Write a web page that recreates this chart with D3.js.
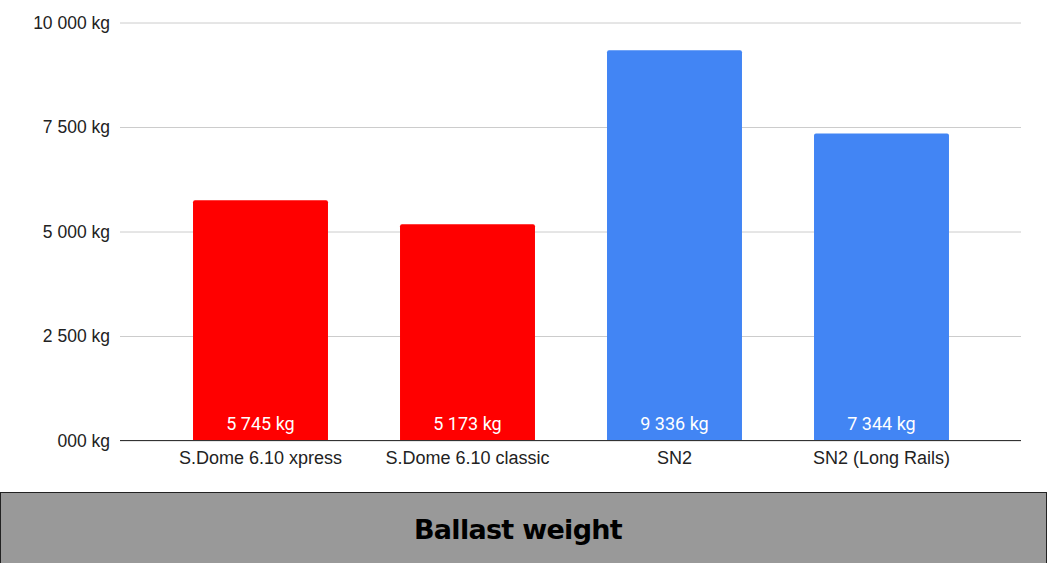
<!DOCTYPE html>
<html>
<head>
<meta charset="utf-8">
<script src="https://cdn.jsdelivr.net/npm/d3@7"></script>
<style>
  body { margin: 0; background: #fff; }
  svg { display: block; }
</style>
</head>
<body>
<div id="chart"></div>
<script>
// chart values
const categories = ["S.Dome 6.10 xpress", "S.Dome 6.10 classic", "SN2", "SN2 (Long Rails)"];
const weights = [5745, 5173, 9336, 7344];
const barColors = ["#ff0000", "#ff0000", "#4285f4", "#4285f4"];
const yTicks = [0, 2500, 5000, 7500, 10000];
const yTickLabels = ["000 kg", "2 500 kg", "5 000 kg", "7 500 kg", "10 000 kg"];
const title = "Ballast weight";

const width = 1047;
const height = 563;

const svg = d3.select('#chart').append('svg')
    .attr('width', width)
    .attr('height', height);

const x = d3.scaleBand()
    .domain(categories)
    .range([157, 985])
    .paddingInner(0.348)
    .paddingOuter(0.174);

const y = d3.scaleLinear()
    .domain([0, 10000])
    .range([440.5, 22.5]);

// gridlines + y labels
const yAxis = d3.axisLeft(y)
    .tickValues(yTicks)
    .tickSize(-(1021 - 120))
    .tickPadding(10)
    .tickFormat((d, i) => yTickLabels[i]);

const gy = svg.append('g')
    .attr('transform', 'translate(120,0)')
    .call(yAxis);
gy.select('.domain').remove();
gy.selectAll('.tick line').attr('stroke', '#cccccc');
gy.selectAll('.tick text')
    .attr('fill', '#222')
    .style('font', '17.5px "Liberation Sans", Arial, sans-serif');

// bars
const rows = categories.map((c, i) => ({ name: c, value: weights[i], color: barColors[i] }));

svg.append('g').selectAll('path')
    .data(rows)
    .enter()
    .append('path')
    .attr('fill', d => d.color)
    .attr('d', d => {
        const x0 = x(d.name), w = x.bandwidth(), y0 = y(d.value), y1 = y(0), r = 2;
        return `M${x0},${y1}V${y0 + r}Q${x0},${y0} ${x0 + r},${y0}H${x0 + w - r}Q${x0 + w},${y0} ${x0 + w},${y0 + r}V${y1}Z`;
    });

// value labels inside bars
svg.append('g').selectAll('text')
    .data(rows)
    .enter()
    .append('text')
    .attr('x', d => x(d.name) + x.bandwidth() / 2)
    .attr('y', y(0) - 11)
    .attr('text-anchor', 'middle')
    .attr('fill', '#fff')
    .style('font', '18px Roboto, sans-serif')
    .text(d => d3.format(',')(d.value).replace(/,/g, ' ') + ' kg');

// baseline
svg.append('line')
    .attr('x1', 120).attr('x2', 1021)
    .attr('y1', y(0)).attr('y2', y(0))
    .attr('stroke', '#333')
    .attr('stroke-width', 1);

// category labels
const xAxis = d3.axisBottom(x).tickSize(0).tickPadding(11);
const gx = svg.append('g')
    .attr('transform', `translate(0,${y(0)})`)
    .call(xAxis);
gx.select('.domain').remove();
gx.selectAll('.tick text')
    .attr('fill', '#222')
    .style('font', '18px "Liberation Sans", Arial, sans-serif');

// title band
svg.append('rect')
    .attr('x', 0.5).attr('y', 492.5)
    .attr('width', width - 1).attr('height', 80)
    .attr('fill', '#999999')
    .attr('stroke', '#222')
    .attr('stroke-width', 1);

svg.append('text')
    .attr('x', 518)
    .attr('y', 539)
    .attr('text-anchor', 'middle')
    .attr('fill', '#000')
    .style('font', 'bold 27px "DejaVu Sans", sans-serif')
    .style('letter-spacing', '-0.7px')
    .text(title);
</script>
</body>
</html>
